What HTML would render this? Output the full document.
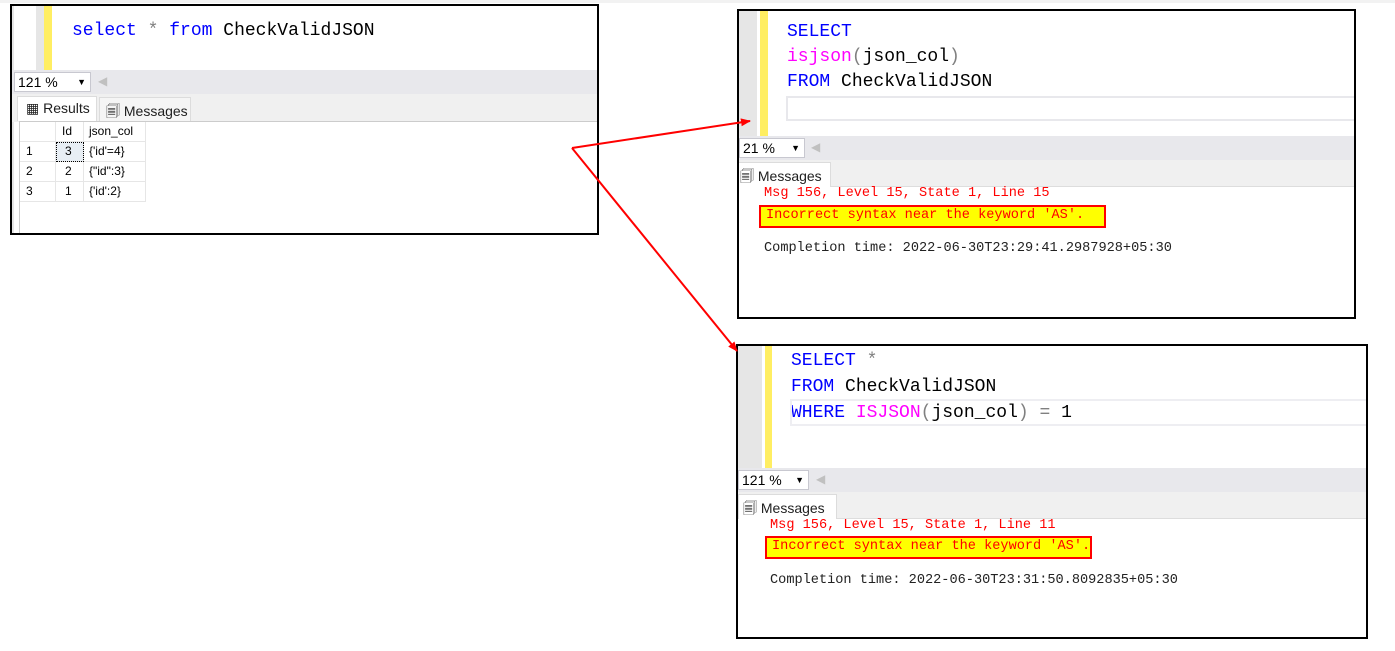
<!DOCTYPE html>
<html><head><meta charset="utf-8"><style>
*{margin:0;padding:0;box-sizing:border-box}
body{width:1395px;height:651px;background:#fff;position:relative;overflow:hidden;font-family:"Liberation Sans",sans-serif}
.a{position:absolute}
.box{position:absolute;border:2px solid #000;background:#fff;overflow:hidden}
.mono{font-family:"Liberation Mono",monospace;white-space:pre}
.code{font-size:18px;color:#000}
.kw{color:#0000ff}.fn{color:#ff00ff}.gr{color:#808080}
.msg{font-size:13.6px;color:#f00}
.cmp{font-size:13.6px;color:#222}
.tb{background:#e8e8ec}
.zoom{background:#fff;border:1px solid #c8c8d0;font-size:14px;color:#000;padding-left:3px;line-height:18px}
.tab{background:#f5f5f5;border:1px solid #dcdcdc;border-bottom:none;font-size:14px;color:#1e1e1e}
.cell{position:absolute;border-right:1px solid #e6e6e6;border-bottom:1px solid #e6e6e6;font-size:12px;line-height:19px;color:#000}
</style></head><body>
<div class="a" style="left:0;top:0;width:1395px;height:3px;background:#f2f2f2"></div>

<!-- Box 1 -->
<div class="box" style="left:10px;top:4px;width:589px;height:231px">
  <div class="a" style="left:0;top:0;width:2px;height:231px;background:#e6e6e6"></div>
  <div class="a" style="left:24px;top:0;width:8px;height:64px;background:#e6e6e6"></div>
  <div class="a" style="left:32px;top:0;width:8px;height:64px;background:#ffee62"></div>
  <div class="a mono code" style="left:60px;top:15px"><span class="kw">select</span> <span class="gr">*</span> <span class="kw">from</span> CheckValidJSON</div>
  <div class="a tb" style="left:0;top:64px;width:589px;height:24px"></div>
  <div class="a zoom" style="left:2px;top:66px;width:77px;height:20px">121 %<span style="position:absolute;right:4px;font-size:9px">▼</span></div>
  <div class="a" style="left:86px;top:68px;color:#c0c0c0;font-size:12px">◀</div>
  <div class="a" style="left:0;top:88px;width:589px;height:28px;background:#f0f0f0"></div>
  <div class="a tab" style="left:5px;top:90px;width:80px;height:25px;background:#fff;padding:3px 0 0 8px">▦ Results</div>
  <div class="a tab" style="left:87px;top:91px;width:92px;height:24px;padding:3px 0 0 6px">🗐 Messages</div>
  <div class="a" style="left:7px;top:115px;width:582px;height:120px;border-top:1px solid #ccc;border-left:1px solid #ccc;background:#fff"></div>
  <div class="cell" style="left:8px;top:116px;width:36px;height:20px"></div>
  <div class="cell" style="left:44px;top:116px;width:28px;height:20px;padding-left:6px">Id</div>
  <div class="cell" style="left:72px;top:116px;width:62px;height:20px;padding-left:5px">json_col</div>
  <div class="cell" style="left:8px;top:136px;width:36px;height:20px;padding-left:6px">1</div>
  <div class="cell" style="left:44px;top:136px;width:28px;height:20px;padding-left:9px;background:#e8eef4;outline:1px dotted #000;outline-offset:-1px">3</div>
  <div class="cell" style="left:72px;top:136px;width:62px;height:20px;padding-left:5px">{'id'=4}</div>
  <div class="cell" style="left:8px;top:156px;width:36px;height:20px;padding-left:6px">2</div>
  <div class="cell" style="left:44px;top:156px;width:28px;height:20px;padding-left:9px">2</div>
  <div class="cell" style="left:72px;top:156px;width:62px;height:20px;padding-left:5px">{"id":3}</div>
  <div class="cell" style="left:8px;top:176px;width:36px;height:20px;padding-left:6px">3</div>
  <div class="cell" style="left:44px;top:176px;width:28px;height:20px;padding-left:9px">1</div>
  <div class="cell" style="left:72px;top:176px;width:62px;height:20px;padding-left:5px">{'id':2}</div>
</div>

<!-- Box 2 -->
<div class="box" style="left:737px;top:9px;width:619px;height:310px">
  <div class="a" style="left:0;top:0;width:18px;height:125px;background:#e6e6e6"></div>
  <div class="a" style="left:21px;top:0;width:8px;height:125px;background:#ffee62"></div>
  <div class="a mono code" style="left:48px;top:9px;line-height:25px"><span class="kw">SELECT</span>
<span class="fn">isjson</span><span class="gr">(</span>json_col<span class="gr">)</span>
<span class="kw">FROM</span> CheckValidJSON</div>
  <div class="a" style="left:47px;top:85px;width:580px;height:25px;border:2px solid #e8e8ec"></div>
  <div class="a tb" style="left:0;top:125px;width:619px;height:24px"></div>
  <div class="a zoom" style="left:0;top:127px;width:66px;height:20px">21 %<span style="position:absolute;right:4px;font-size:9px">▼</span></div>
  <div class="a" style="left:72px;top:129px;color:#c0c0c0;font-size:12px">◀</div>
  <div class="a" style="left:0;top:149px;width:619px;height:27px;background:#f0f0f0;border-bottom:1px solid #ddd"></div>
  <div class="a tab" style="left:-4px;top:151px;width:96px;height:25px;background:#fff;padding:3px 0 0 4px">🗐 Messages</div>
  <div class="a mono msg" style="left:25px;top:175px">Msg 156, Level 15, State 1, Line 15</div>
  <div class="a mono msg" style="left:20px;top:194px;width:347px;height:23px;background:#ff0;border:2px solid #f00;padding-left:5px;line-height:17px">Incorrect syntax near the keyword 'AS'.</div>
  <div class="a mono cmp" style="left:25px;top:230px">Completion time: 2022-06-30T23:29:41.2987928+05:30</div>
</div>

<!-- Box 3 -->
<div class="box" style="left:736px;top:344px;width:632px;height:295px">
  <div class="a" style="left:0;top:0;width:24px;height:122px;background:#e6e6e6"></div>
  <div class="a" style="left:27px;top:0;width:7px;height:122px;background:#ffee62"></div>
  <div class="a mono code" style="left:53px;top:2px;line-height:26px"><span class="kw">SELECT</span> <span class="gr">*</span>
<span class="kw">FROM</span> CheckValidJSON
<span class="kw">WHERE</span> <span class="fn">ISJSON</span><span class="gr">(</span>json_col<span class="gr">)</span> <span class="gr">=</span> 1</div>
  <div class="a" style="left:52px;top:53px;width:590px;height:27px;border:2px solid #eeeef2"></div>
  <div class="a tb" style="left:0;top:122px;width:632px;height:24px"></div>
  <div class="a zoom" style="left:0;top:124px;width:71px;height:20px">121 %<span style="position:absolute;right:4px;font-size:9px">▼</span></div>
  <div class="a" style="left:78px;top:126px;color:#c0c0c0;font-size:12px">◀</div>
  <div class="a" style="left:0;top:146px;width:632px;height:27px;background:#f0f0f0;border-bottom:1px solid #ddd"></div>
  <div class="a tab" style="left:0;top:148px;width:99px;height:25px;background:#fff;padding:3px 0 0 4px">🗐 Messages</div>
  <div class="a mono msg" style="left:32px;top:172px">Msg 156, Level 15, State 1, Line 11</div>
  <div class="a mono msg" style="left:27px;top:190px;width:327px;height:23px;background:#ff0;border:2px solid #f00;padding-left:5px;line-height:17px">Incorrect syntax near the keyword 'AS'.</div>
  <div class="a mono cmp" style="left:32px;top:227px">Completion time: 2022-06-30T23:31:50.8092835+05:30</div>
</div>

<svg class="a" style="left:0;top:0" width="1395" height="651">
  <defs><marker id="ar" markerWidth="10" markerHeight="8" refX="9" refY="4" orient="auto" markerUnits="userSpaceOnUse"><path d="M0,0 L10,4 L0,8 z" fill="#f00"/></marker></defs>
  <line x1="572" y1="148" x2="750" y2="121" stroke="#f00" stroke-width="2" marker-end="url(#ar)"/>
  <line x1="572" y1="148" x2="737" y2="351" stroke="#f00" stroke-width="2" marker-end="url(#ar)"/>
</svg>
</body></html>
